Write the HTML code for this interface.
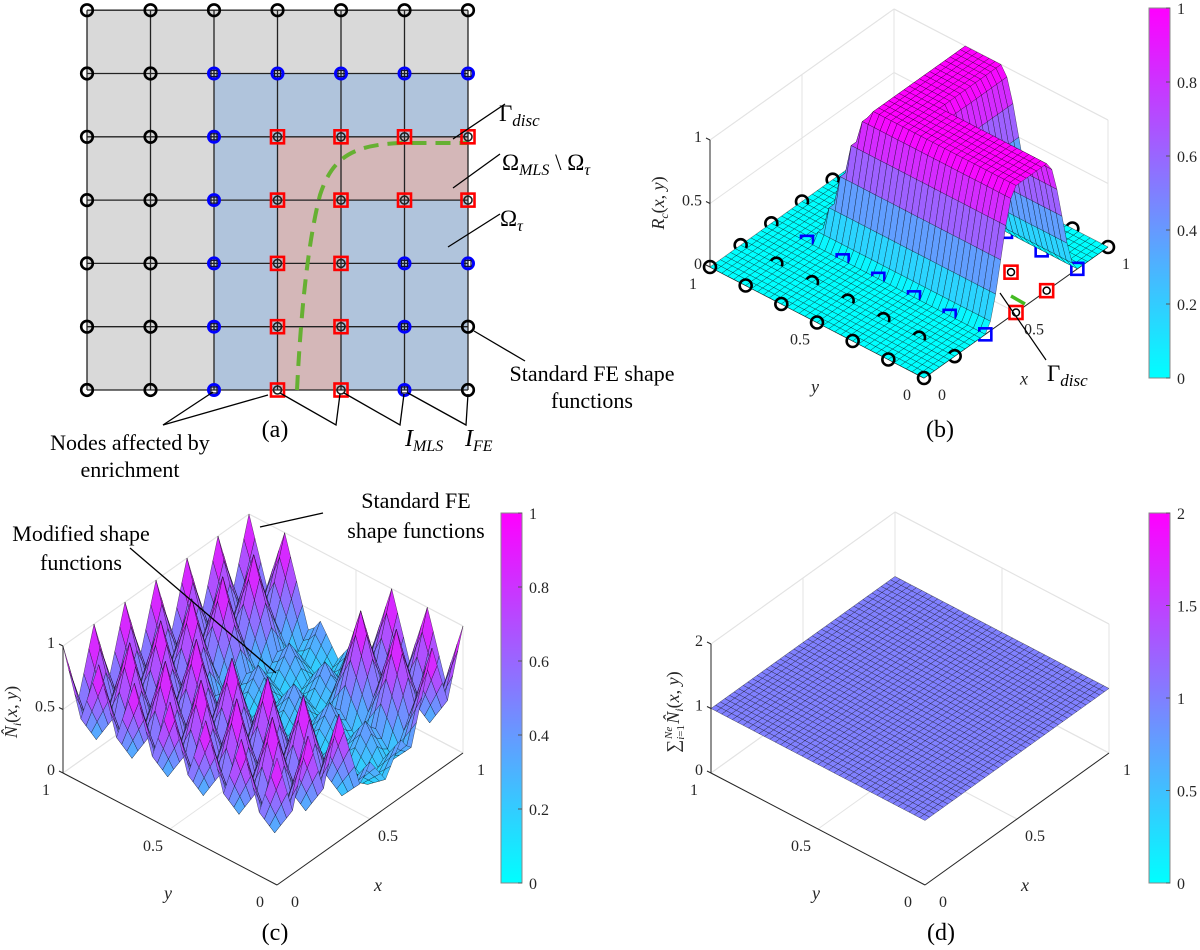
<!DOCTYPE html>
<html><head><meta charset="utf-8"><style>
html,body{margin:0;padding:0;background:#fff;}
svg{display:block;font-family:"Liberation Serif",serif;}
</style></head><body>
<svg id="fig" width="1200" height="950" viewBox="0 0 1200 950" xmlns="http://www.w3.org/2000/svg">
<defs>
<linearGradient id="cool" x1="0" y1="1" x2="0" y2="0"><stop offset="0" stop-color="#00ffff"/><stop offset="1" stop-color="#ff00ff"/></linearGradient>
</defs>
<g id="panelA"></g>
<g id="panelB"></g>
<g id="panelC"></g>
<g id="panelD"></g>
<g id="texts">
  <text x="499" y="121" font-size="23">Γ<tspan font-style="italic" font-size="17" dy="5">disc</tspan></text>
  <text x="502" y="170" font-size="23">Ω<tspan font-style="italic" font-size="16" dy="5">MLS</tspan><tspan dy="-5"> \ Ω</tspan><tspan font-style="italic" font-size="16" dy="5">τ</tspan></text>
  <text x="500" y="226" font-size="23">Ω<tspan font-style="italic" font-size="16" dy="5">τ</tspan></text>
  <text x="592" y="381" font-size="22" text-anchor="middle">Standard FE shape</text>
  <text x="592" y="408" font-size="22" text-anchor="middle">functions</text>
  <text x="130" y="450" font-size="22" text-anchor="middle">Nodes affected by</text>
  <text x="130" y="477" font-size="22" text-anchor="middle">enrichment</text>
  <text x="405" y="446" font-size="24" font-style="italic">I<tspan font-size="16" dy="5">MLS</tspan></text>
  <text x="465" y="446" font-size="24" font-style="italic">I<tspan font-size="16" dy="5">FE</tspan></text>
  <text x="275" y="437" font-size="24" text-anchor="middle">(a)</text>
  <text x="1047" y="381" font-size="23">Γ<tspan font-style="italic" font-size="17" dy="5">disc</tspan></text>
  <text x="940" y="437" font-size="24" text-anchor="middle">(b)</text>
  <text transform="translate(664,203) rotate(-90)" font-size="18" text-anchor="middle" fill="#262626"><tspan font-style="italic">R</tspan><tspan font-size="12" font-style="italic" dy="4">c</tspan><tspan dy="-4">(</tspan><tspan font-style="italic">x</tspan>, <tspan font-style="italic">y</tspan>)</text>
  <text x="416" y="508" font-size="22" text-anchor="middle">Standard FE</text>
  <text x="416" y="538" font-size="22" text-anchor="middle">shape functions</text>
  <text x="81" y="541" font-size="22" text-anchor="middle">Modified shape</text>
  <text x="81" y="570" font-size="22" text-anchor="middle">functions</text>
  <text x="275" y="940" font-size="24" text-anchor="middle">(c)</text>
  <text transform="translate(17,712) rotate(-90)" font-size="18" text-anchor="middle" fill="#262626"><tspan font-style="italic">N̂</tspan><tspan font-size="12" font-style="italic" dy="4">i</tspan><tspan dy="-4">(</tspan><tspan font-style="italic">x</tspan>, <tspan font-style="italic">y</tspan>)</text>
  <text x="941" y="940" font-size="24" text-anchor="middle">(d)</text>
  <text transform="translate(679,712) rotate(-90)" font-size="18" text-anchor="middle" fill="#262626">∑<tspan font-size="11" font-style="italic" dy="5">i</tspan><tspan font-size="11" dy="0">=1</tspan><tspan font-size="11" font-style="italic" dx="-14" dy="-12">Ne</tspan><tspan dy="7" dx="3" font-style="italic">N̂</tspan><tspan font-size="12" font-style="italic" dy="4">i</tspan><tspan dy="-4">(</tspan><tspan font-style="italic">x</tspan>, <tspan font-style="italic">y</tspan>)</text>
</g>
</svg>
<script>
const nodeTypeRows = ["kkbrrbk","kkbrrbk","kkbrrbb","kkbrrrr","kkbrrrr","kkbbbbb","kkkkkkk"];
const pinkRects = [[0.5,0.6667,0,0.6667],[0.5,1,0.5,0.6667]];
const blueRect = [0.3333,1,0,0.8333];
const rampWidth = [1/6];
const peakHeightByType = {k:1.0, b:1.0, r:0.45};
const sumValue = [1];
const axisTicks = [0,0.5,1];
const zTicksB = [0,0.5,1];
const zTicksC = [0,0.5,1];
const zTicksD = [0,1,2];
const cbTicksBC = [0,0.2,0.4,0.6,0.8,1];
const cbTicksD = [0,0.5,1,1.5,2];

const NS='http://www.w3.org/2000/svg';
function mk(tag, attrs, parent){const e=document.createElementNS(NS,tag);for(const k in attrs)e.setAttribute(k,attrs[k]);parent.appendChild(e);return e;}
function cool(t){t=Math.max(0,Math.min(1,t));return 'rgb('+Math.round(255*t)+','+Math.round(255*(1-t))+',255)';}

const A=document.getElementById('panelA');
const ax=i=>87+63.5*i, ay=j=>390-63.3*j;
const fx=v=>87+v*381, fy=v=>390-v*380;
let r=mk('rect',{x:fx(0),y:fy(1),width:381,height:380,fill:'#d9d9d9'},A);


r=mk('rect',{x:fx(blueRect[0]),y:fy(blueRect[3]),width:(blueRect[1]-blueRect[0])*381,height:(blueRect[3]-blueRect[2])*380,fill:'#b0c4dc'},A);


pinkRects.forEach(pr=>{
  const e=mk('rect',{x:fx(pr[0]),y:fy(pr[3]),width:(pr[1]-pr[0])*381,height:(pr[3]-pr[2])*380,fill:'#d4b7b8'},A);
  
  
});
for(let i=0;i<7;i++){
  let l=mk('line',{x1:ax(i),y1:ay(0),x2:ax(i),y2:ay(6),stroke:'#222','stroke-width':1.3},A);
  
  
  l=mk('line',{x1:ax(0),y1:ay(i),x2:ax(6),y2:ay(i),stroke:'#222','stroke-width':1.3},A);
  
  
}
let gp=mk('path',{d:'M297,390 C300,330 306,250 320,195 C332,158 352,145 400,143 L467,143',fill:'none',stroke:'#66b032','stroke-width':4,'stroke-dasharray':'15 9'},A);


for(let j=0;j<7;j++)for(let i=0;i<7;i++){
  const t=nodeTypeRows[j][i], x=ax(i), y=ay(j);
  if(t==='r'){
    const s=mk('rect',{x:x-6.5,y:y-6.5,width:13,height:13,fill:'none',stroke:'#ff0000','stroke-width':2.6},A);
    
    
    const c=mk('circle',{cx:x,cy:y,r:4,fill:'none',stroke:'#222','stroke-width':1.6},A);
    
    
  }else if(t==='b'){
    const c=mk('circle',{cx:x,cy:y,r:5.5,fill:'none',stroke:'#0000ff','stroke-width':3},A);
    
    
    const s=mk('rect',{x:x-3,y:y-3,width:6,height:6,fill:'none',stroke:'#113','stroke-width':1.2},A);
    
    
  }else{
    const c=mk('circle',{cx:x,cy:y,r:5.8,fill:'none',stroke:'#000','stroke-width':2.6},A);
    
    
  }
}
const leaders=[[453,139,505,104],[453,188,500,154],[448,247,500,214],[474,331,525,361],[163,425,213,392],[163,425,268,395]];
leaders.forEach(L=>{
  const l=mk('line',{x1:L[0],y1:L[1],x2:L[2],y2:L[3],stroke:'#000','stroke-width':1.3},A);
  
  
});
[[280,393,336,425,340,394],[344,393,400,425,404,394],[408,393,466,425,468,394]].forEach(P=>{
  const l=mk('polyline',{points:P[0]+','+P[1]+' '+P[2]+','+P[3]+' '+P[4]+','+P[5],fill:'none',stroke:'#000','stroke-width':1.3},A);
  
  
});

function proj(p,x,y,z){return [p.bx+x*p.X[0]+y*p.Y[0], p.by+x*p.X[1]+y*p.Y[1]-z*p.zs];}
function seg(p,g,a,b,stroke,w,name){
  const P=proj(p,a[0],a[1],a[2]), Q=proj(p,b[0],b[1],b[2]);
  const l=mk('line',{x1:P[0],y1:P[1],x2:Q[0],y2:Q[1],stroke:stroke,'stroke-width':w},g);
  
  
}
function drawAxes(p,g,zTicks){
  const zm=p.zmax, lg='#e3e3e3';
  seg(p,g,[1,1,0],[1,1,zm],lg,1,'box-edge');
  seg(p,g,[1,0,0],[1,0,zm],lg,1,'box-edge');
  seg(p,g,[0,1,zm],[1,1,zm],lg,1,'box-edge');
  seg(p,g,[1,1,zm],[1,0,zm],lg,1,'box-edge');
  seg(p,g,[0,1,0],[1,1,0],lg,1,'box-edge');
  seg(p,g,[1,1,0],[1,0,0],lg,1,'box-edge');
  axisTicks.forEach(t=>{
    seg(p,g,[t,1,0],[t,1,zm],lg,1,'grid-line');
    seg(p,g,[1,t,0],[1,t,zm],lg,1,'grid-line');
    seg(p,g,[t,0,0],[t,1,0],lg,1,'grid-line');
    seg(p,g,[0,t,0],[1,t,0],lg,1,'grid-line');
  });
  zTicks.forEach(t=>{
    seg(p,g,[0,1,t],[1,1,t],lg,1,'grid-line');
    seg(p,g,[1,0,t],[1,1,t],lg,1,'grid-line');
  });
  seg(p,g,[0,0,0],[0,1,0],'#262626',1,'y-axis-line');
  seg(p,g,[0,0,0],[1,0,0],'#262626',1,'x-axis-line');
  seg(p,g,[0,1,0],[0,1,zm],'#262626',1,'z-axis-line');
  zTicks.forEach(t=>{
    const P=proj(p,0,1,t);
    const tx=mk('text',{x:P[0]-8,y:P[1]+2,'font-size':16,'text-anchor':'end',fill:'#262626'},g);
    tx.textContent=String(t);
    
    
    const tk=mk('line',{x1:P[0],y1:P[1],x2:P[0]-4,y2:P[1]-2,stroke:'#262626'},g);
    
    
  });
  axisTicks.forEach(t=>{
    let P=proj(p,0,t,0);
    let tx=mk('text',{x:P[0]-17,y:P[1]+22,'font-size':16,'text-anchor':'middle',fill:'#262626'},g);
    tx.textContent=String(t);
    
    
    P=proj(p,t,0,0);
    tx=mk('text',{x:P[0]+18,y:P[1]+22,'font-size':16,'text-anchor':'middle',fill:'#262626'},g);
    tx.textContent=String(t);
    
    
  });
  let P=proj(p,0,0.5,0);
  let t1=mk('text',{x:P[0]-2,y:P[1]+70,'font-size':18,'font-style':'italic','text-anchor':'middle',fill:'#262626'},g);
  t1.textContent='y';
  
  
  P=proj(p,0.5,0,0);
  t1=mk('text',{x:P[0]+8,y:P[1]+72,'font-size':18,'font-style':'italic','text-anchor':'middle',fill:'#262626'},g);
  t1.textContent='x';
  
  
}
function drawColorbar(g,x,y0,y1,ticks,cmax){
  const rc=mk('rect',{x:x,y:y0,width:21,height:y1-y0,fill:'url(#cool)',stroke:'#888','stroke-width':1},g);
  
  
  ticks.forEach(t=>{
    const yy=y1-(y1-y0)*t/cmax;
    const tk=mk('line',{x1:x+17,y1:yy,x2:x+21,y2:yy,stroke:'#555'},g);
    
    
    const tx=mk('text',{x:x+28,y:yy+6,'font-size':16,fill:'#262626'},g);
    tx.textContent=String(t);
    
    
  });
}
function drawSurface(p,g,N,f,cmax,markers){
  const items=[];
  for(let i=0;i<N;i++)for(let j=0;j<N;j++){
    const x0=i/N,x1=(i+1)/N,y0=j/N,y1=(j+1)/N;
    const zs=[f(x0,y0),f(x1,y0),f(x1,y1),f(x0,y1)];
    const pts=[proj(p,x0,y0,zs[0]),proj(p,x1,y0,zs[1]),proj(p,x1,y1,zs[2]),proj(p,x0,y1,zs[3])];
    items.push({d:131*(x0+x1)/2+111*(y0+y1)/2,q:pts,t:(zs[0]+zs[1]+zs[2]+zs[3])/4/cmax});
  }
  (markers||[]).forEach(m=>items.push({d:131*m.x+111*m.y,m:m}));
  items.sort((a,b)=>b.d-a.d);
  items.forEach(it=>{
    if(it.q){
      const e=mk('polygon',{points:it.q.map(v=>v[0].toFixed(1)+','+v[1].toFixed(1)).join(' '),fill:cool(it.t),stroke:'#000','stroke-width':0.35,'stroke-opacity':0.85},g);
      
      
    }else{
      const m=it.m, P=proj(p,m.x,m.y,0);
      if(m.t==='k'){
        const c=mk('circle',{cx:P[0],cy:P[1],r:6,fill:'none',stroke:'#000','stroke-width':2.6},g);
        
        
      }else if(m.t==='b'){
        const s=mk('rect',{x:P[0]-6,y:P[1]-6,width:12,height:12,fill:'none',stroke:'#0000ff','stroke-width':2.6},g);
        
        
      }else{
        const s=mk('rect',{x:P[0]-6.5,y:P[1]-6.5,width:13,height:13,fill:'#fff',stroke:'#ff0000','stroke-width':2.6},g);
        
        
        const c=mk('circle',{cx:P[0],cy:P[1],r:3.5,fill:'none',stroke:'#000','stroke-width':1.5},g);
        
        
      }
    }
  });
}

const B=document.getElementById('panelB');
const pB={bx:924,by:378,X:[184,-131],Y:[-214,-111],zs:127,zmax:1};
drawAxes(pB,B,zTicksB);
function rampVal(d){const s=Math.max(0,Math.min(1,1-d/rampWidth[0]));return s*s*(3-2*s);}
function Rc(x,y){
  let v=0;
  pinkRects.forEach(pr=>{
    const dx=Math.max(pr[0]-x,0,x-pr[1]), dy=Math.max(pr[2]-y,0,y-pr[3]);
    v=Math.max(v,rampVal(Math.max(dx,dy)));
  });
  return v;
}
const markersB=[];
for(let j=0;j<7;j++)for(let i=0;i<7;i++)markersB.push({x:i/6,y:j/6,t:nodeTypeRows[j][i]});
drawSurface(pB,B,36,Rc,1,markersB);
let gs=mk('line',{x1:1011,y1:296,x2:1025,y2:304,stroke:'#44bb22','stroke-width':3.5},B);


gs=mk('line',{x1:1000,y1:293,x2:1046,y2:360,stroke:'#000','stroke-width':1.2},B);


drawColorbar(B,1149,8,378,cbTicksBC,1);

const C=document.getElementById('panelC');
const pC={bx:277,by:885,X:[186,-132],Y:[-214,-112],zs:127,zmax:1};
drawAxes(pC,C,zTicksC);
function Nenv(x,y){
  let v=0;
  for(let j=0;j<7;j++)for(let i=0;i<7;i++){
    const h=peakHeightByType[nodeTypeRows[j][i]];
    const w=Math.max(0,1-Math.abs(x-i/6)*6)*Math.max(0,1-Math.abs(y-j/6)*6);
    v=Math.max(v,h*w);
  }
  return v;
}
drawSurface(pC,C,36,Nenv,1,null);
[[260,527,323,513],[130,548,276,673]].forEach(L=>{
  const l=mk('line',{x1:L[0],y1:L[1],x2:L[2],y2:L[3],stroke:'#000','stroke-width':1.3},C);
  
  
});
drawColorbar(C,501,513,883,cbTicksBC,1);

const D=document.getElementById('panelD');
const pD={bx:925,by:885,X:[184,-132],Y:[-214,-112],zs:64.5,zmax:2};
drawAxes(pD,D,zTicksD);
drawSurface(pD,D,40,(x,y)=>sumValue[0],2,null);
drawColorbar(D,1149,513,883,cbTicksD,2);
</script>
</body></html>
